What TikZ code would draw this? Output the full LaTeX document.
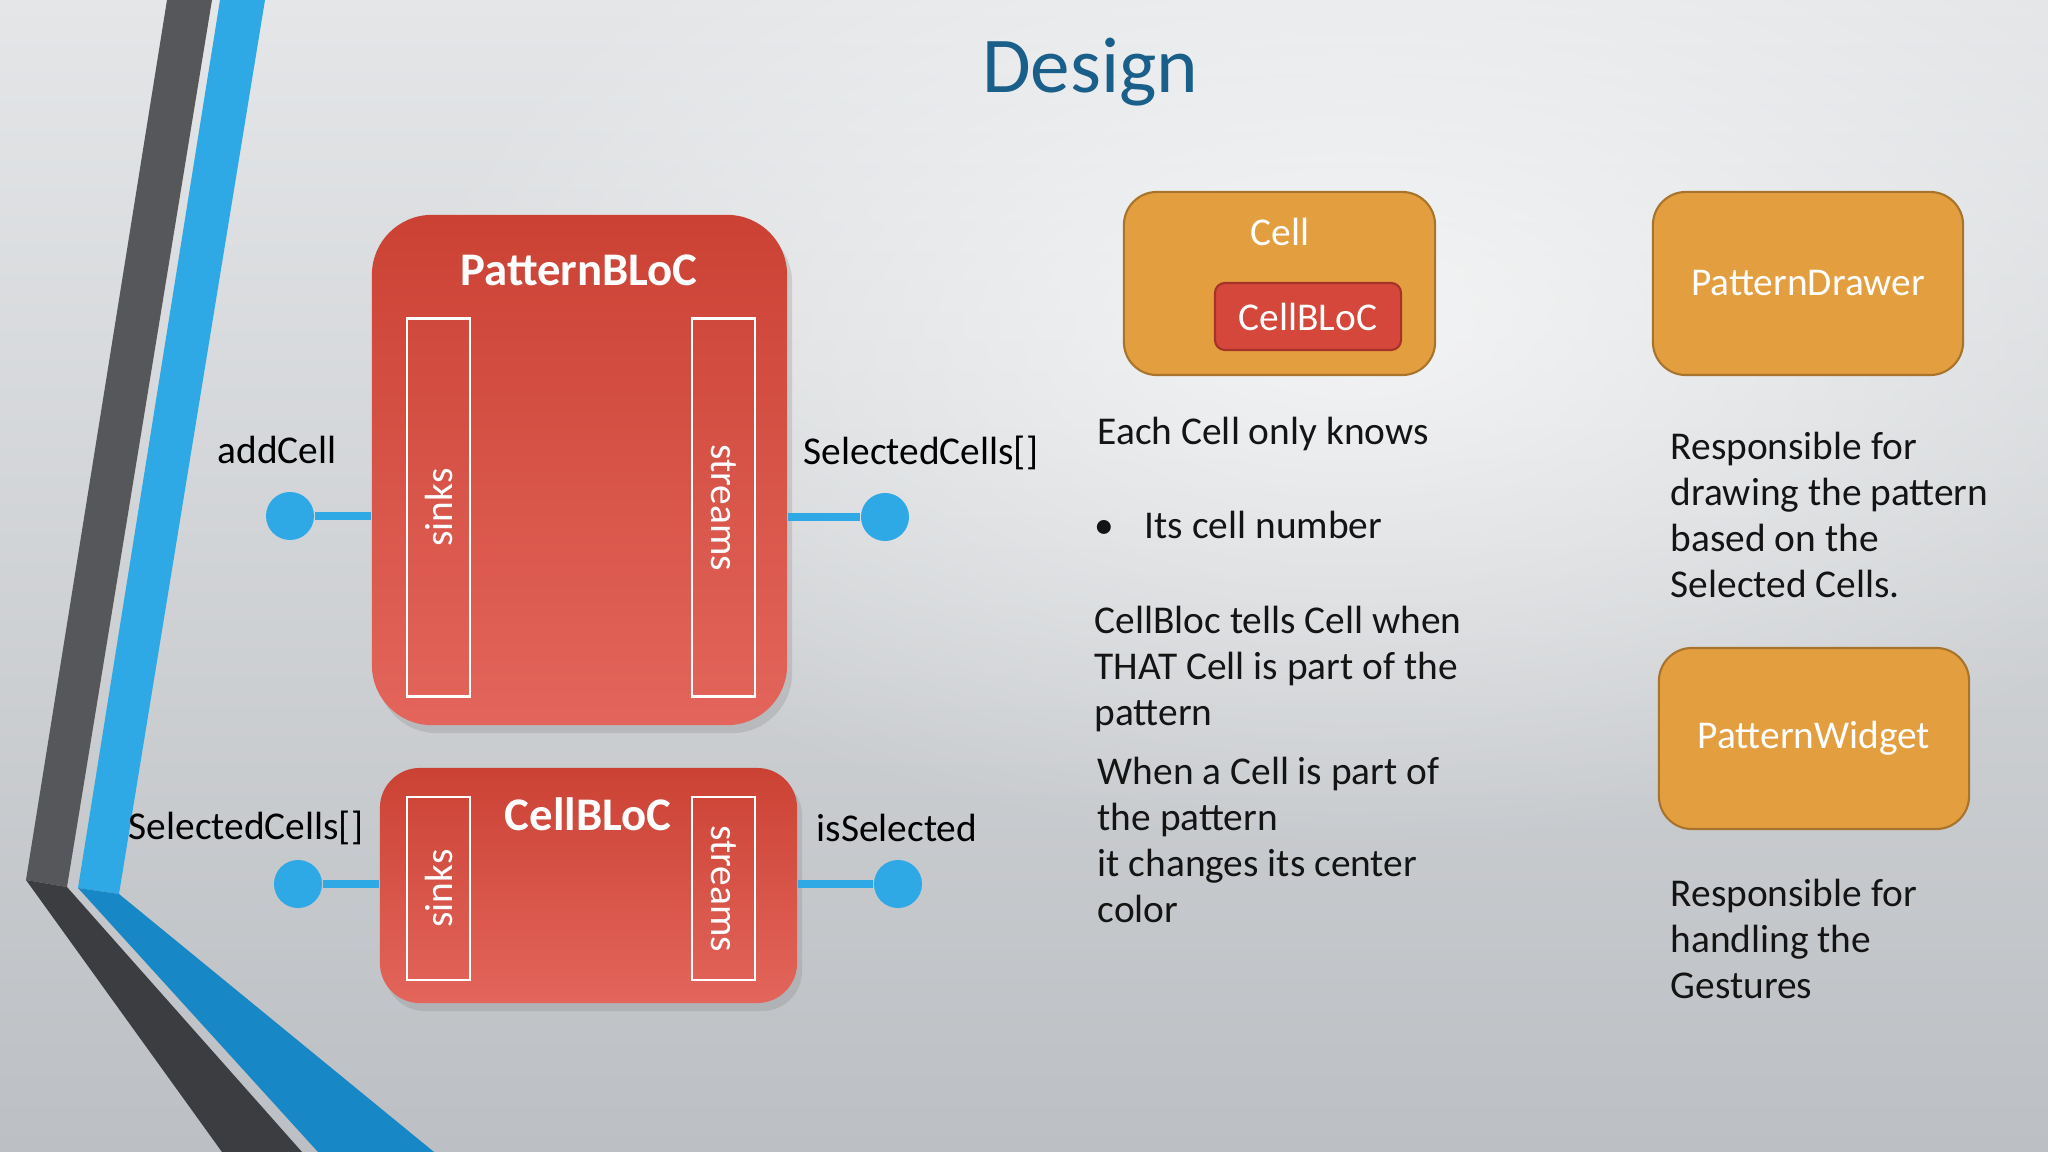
\documentclass[tikz,border=0pt]{standalone}
\usepackage{fontspec}
\setmainfont{Carlito}
\definecolor{bred}{HTML}{CB4234}
\definecolor{lred}{HTML}{E3655B}
\definecolor{sblue}{HTML}{2EA9E6}
\definecolor{dblue}{HTML}{1787C6}
\definecolor{dgray}{HTML}{55575A}
\definecolor{ddgray}{HTML}{3B3D40}
\definecolor{ochre}{HTML}{E39E3F}
\definecolor{ochreline}{HTML}{A8732C}
\definecolor{cred}{HTML}{D5473A}
\definecolor{credline}{HTML}{A53328}
\definecolor{titleblue}{HTML}{1A5E8A}
\definecolor{bgtop}{HTML}{E4E6E8}
\definecolor{bgmid}{HTML}{E2E4E6}
\definecolor{bgbot}{HTML}{BCBFC3}
\usetikzlibrary{positioning,shadows,fadings}
\tikzfading[name=glow,inner color=transparent!0,outer color=transparent!100]

\begin{document}
\begin{tikzpicture}[x=0.01cm,y=-0.01cm,every node/.style={font=\fontsize{11.2}{13.1}\selectfont,inner sep=0pt},
    rbox/.style={top color=bred,bottom color=lred,drop shadow={opacity=0.25,shadow xshift=0.5mm,shadow yshift=-0.8mm}},
    rtitle/.style={text=white,font=\fontsize{13.3}{16}\selectfont\bfseries},
    port/.style={draw=white,line width=0.8pt,text=white,minimum height=0.63cm},
    obox/.style={draw=ochreline,fill=ochre,line width=0.6pt,rounded corners=3.3mm,text=white,minimum width=3.1cm,minimum height=1.83cm},
    dot/.style={circle,fill=sblue,minimum size=0.48cm},
    link/.style={sblue,line width=2.3pt},
    txt/.style={anchor=west,align=left,text=black!92}]
  \useasboundingbox (0,0) rectangle (2048,1152);
  \shade[top color=bgtop,middle color=bgmid,bottom color=bgbot] (0,0) rectangle (2048,1152);
  \fill[white,opacity=0.7,path fading=glow] (1350,330) ellipse (950 and 520);
  \fill[dgray] (167,0) -- (212,0) -- (67,887) -- (26,880) -- cycle;
  \fill[ddgray] (26,880) -- (67,887) -- (302,1152) -- (222,1152) -- cycle;
  \fill[sblue] (220,0) -- (265,0) -- (119,894) -- (78,888) -- cycle;
  \fill[dblue] (78,888) -- (119,894) -- (434,1152) -- (318,1152) -- cycle;

  \node[text=titleblue,font=\fontsize{22.5}{27}\selectfont] (title) at (1090,72) {Design};

  \node[rbox,rounded corners=6mm,minimum width=4.15cm,minimum height=5.1cm] (pb) at (579.5,470) {};
  \node[rtitle] (pbt) at (579,270) {PatternBLoC};
  \node[port,rotate=90,minimum width=3.77cm] (pbs) at (438.5,507.5) {sinks};
  \node[port,rotate=-90,minimum width=3.77cm] (pbo) at (723.5,507.5) {streams};
  \node[dot] (pin) at (290,516) {};
  \node[dot] (pout) at (885,517) {};
  \draw[link] (pin) -- (pin -| pb.west);
  \draw[link] (pb.east |- pout) -- (pout);
  \node (pinl) at (277,450) {addCell};
  \node (poutl) at (921,453) {SelectedCells[]};

  \node[rbox,rounded corners=4mm,minimum width=4.17cm,minimum height=2.35cm] (cb) at (588.5,885.5) {};
  \node[rtitle] (cbt) at (588,814) {CellBLoC};
  \node[port,rotate=90,minimum width=1.83cm] (cbs) at (438.5,888.5) {sinks};
  \node[port,rotate=-90,minimum width=1.83cm] (cbo) at (723.5,888.5) {streams};
  \node[dot] (cin) at (298,884) {};
  \node[dot] (cout) at (898,884) {};
  \draw[link] (cin) -- (cin -| cb.west);
  \draw[link] (cb.east |- cout) -- (cout);
  \node (cinl) at (246,828) {SelectedCells[]};
  \node (coutl) at (897,828) {isSelected};

  \node[obox,minimum width=3.11cm] (cell) at (1279.5,283.5) {};
  \node[text=white] (cellt) at (1280,232) {Cell};
  \node[draw=credline,fill=cred,line width=0.6pt,rounded corners=1mm,text=white,minimum width=1.86cm,minimum height=0.67cm] (cbl) at (1308,316.5) {CellBLoC};
  \node[obox] (pd) at (1808,283.5) {PatternDrawer};
  \node[obox,minimum height=1.81cm] (pw) at (1814,738.5) {PatternWidget};

  \node[txt] (kn) at (1097,434) {Each Cell only knows};
  \node[txt] (num) at (1094,525) {\makebox[0.5cm][l]{\textbullet}Its cell number};
  \node[txt] (tell) at (1094,669) {CellBloc tells Cell when\\THAT Cell is part of the\\pattern};
  \node[txt] (chg) at (1097,840) {When a Cell is part of\\the pattern\\it changes its center\\color};
  \node[txt] (pdt) at (1670,515) {Responsible for\\drawing the pattern\\based on the\\Selected Cells.};
  \node[txt] (pwt) at (1670,939) {Responsible for\\handling the\\Gestures};
\end{tikzpicture}
\end{document}
